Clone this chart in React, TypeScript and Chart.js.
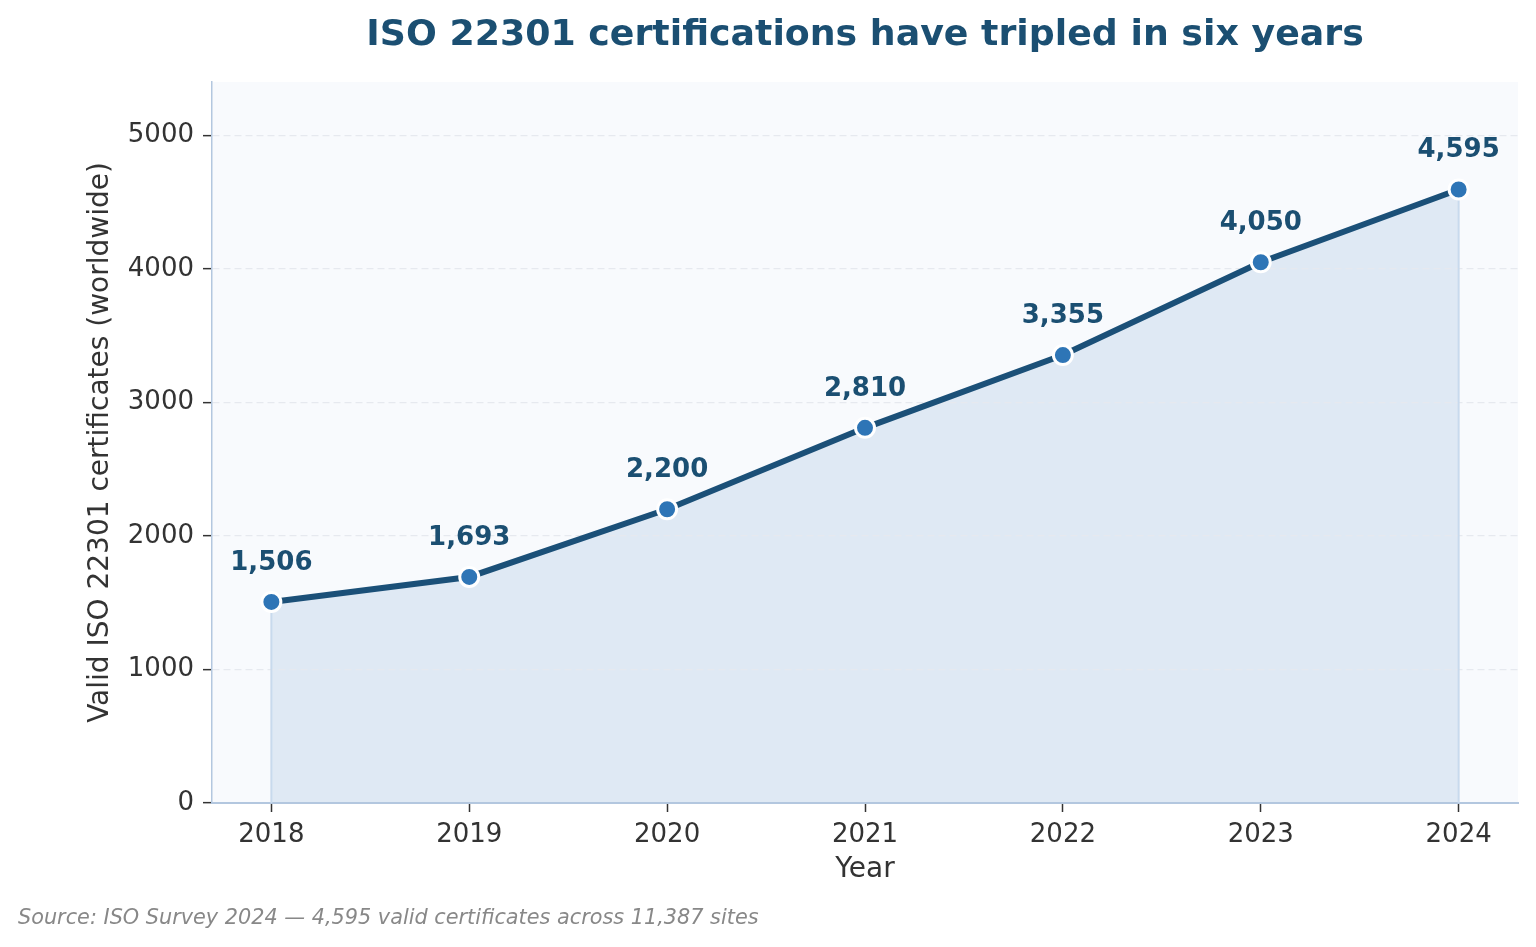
import React, { useEffect, useRef } from "react";
import { Chart, registerables } from "chart.js";

// Data
const years = ["2018", "2019", "2020", "2021", "2022", "2023", "2024"];
const certificates = [1506, 1693, 2200, 2810, 3355, 4050, 4595];
const yTickValues = [0, 1000, 2000, 3000, 4000, 5000];

const titleText = "ISO 22301 certifications have tripled in six years";
const yTitleText = "Valid ISO 22301 certificates (worldwide)";
const xTitleText = "Year";
const sourceText =
  "Source: ISO Survey 2024 \u2014 4,595 valid certificates across 11,387 sites";

const FONT = "'DejaVu Sans', 'Noto Sans', sans-serif";
const NAVY = "#1b5078";
const TITLE_NAVY = "#1b4f72";
const POINT_BLUE = "#2e75b6";
const TEXT_DARK = "#333333";
const SPINE = "#b3c7df";

// Plot-area background; registered ahead of the built-in plugins so that
// the area fill (drawn at beforeDraw time) lands on top of it.
const plotBackground = {
  id: "plotBackground",
  beforeDraw(chart: any) {
    const { ctx, chartArea } = chart;
    if (!chartArea) return;
    ctx.save();
    ctx.fillStyle = "#f8fafd";
    ctx.fillRect(
      chartArea.left,
      chartArea.top,
      chartArea.right - chartArea.left,
      chartArea.bottom - chartArea.top
    );
    ctx.restore();
  },
};

Chart.register(plotBackground, ...registerables);

// Edge lines of the shaded area, value labels, title and source note
const decorations = {
  id: "decorations",
  beforeDatasetsDraw(chart: any) {
    const { ctx } = chart;
    const meta = chart.getDatasetMeta(0);
    const yScale = chart.scales.y;
    const base = yScale.getPixelForValue(0);
    const pts = meta.data;
    if (!pts.length) return;
    ctx.save();
    ctx.strokeStyle = "#c8daed";
    ctx.lineWidth = 2;
    [pts[0], pts[pts.length - 1]].forEach((p: any) => {
      ctx.beginPath();
      ctx.moveTo(p.x, p.y);
      ctx.lineTo(p.x, base);
      ctx.stroke();
    });
    ctx.restore();
  },
  afterDatasetsDraw(chart: any) {
    const { ctx } = chart;
    const meta = chart.getDatasetMeta(0);
    ctx.save();
    ctx.font = `bold 26px ${FONT}`;
    ctx.fillStyle = TITLE_NAVY;
    ctx.textAlign = "center";
    ctx.textBaseline = "middle";
    meta.data.forEach((p: any, i: number) => {
      ctx.fillText(certificates[i].toLocaleString("en-US"), p.x, p.y - 39);
    });
    ctx.restore();
  },
  afterDraw(chart: any) {
    const { ctx, chartArea } = chart;
    ctx.save();
    ctx.font = `bold 36.3px ${FONT}`;
    ctx.fillStyle = TITLE_NAVY;
    ctx.textAlign = "center";
    ctx.textBaseline = "middle";
    ctx.fillText(titleText, (chartArea.left + chartArea.right) / 2, 36);

    ctx.font = `italic 20.8px ${FONT}`;
    ctx.fillStyle = "#888888";
    ctx.textAlign = "left";
    ctx.fillText(sourceText, 18, 919);
    ctx.restore();
  },
};

export default function App() {
  const canvasRef = useRef<HTMLCanvasElement | null>(null);

  useEffect(() => {
    if (!canvasRef.current) return;
    const chart = new Chart(canvasRef.current, {
      type: "line",
      data: {
        datasets: [
          {
            label: "Valid certificates",
            data: certificates.map((v, i) => ({ x: i, y: v })),
            borderColor: NAVY,
            borderWidth: 6,
            backgroundColor: "rgba(46,117,182,0.124)",
            fill: "origin",
            tension: 0,
            pointRadius: 9.5,
            pointBackgroundColor: POINT_BLUE,
            pointBorderColor: "#ffffff",
            pointBorderWidth: 3,
            clip: false,
          },
        ],
      },
      options: {
        animation: false,
        responsive: false,
        maintainAspectRatio: false,
        devicePixelRatio: 1,
        layout: { padding: { top: 82, right: 18, bottom: 34, left: 0 } },
        font: { family: FONT },
        plugins: {
          legend: { display: false },
          tooltip: { enabled: false },
          title: { display: false },
          filler: { drawTime: "beforeDraw" },
        },
        scales: {
          x: {
            type: "linear",
            min: -0.3,
            max: 6.3,
            afterBuildTicks: (s: any) => {
              s.ticks = years.map((_, i) => ({ value: i }));
            },
            afterFit: (s: any) => {
              s.height = 110;
            },
            ticks: {
              autoSkip: false,
              maxRotation: 0,
              padding: 8,
              color: TEXT_DARK,
              font: { size: 26, family: FONT },
              callback: (v: any) => years[Math.round(Number(v))],
            },
            grid: {
              drawOnChartArea: false,
              drawTicks: true,
              tickLength: 9,
              tickColor: TEXT_DARK,
              tickWidth: 1.5,
            },
            border: { display: true, color: SPINE, width: 2 },
            title: {
              display: true,
              text: xTitleText,
              color: TEXT_DARK,
              font: { size: 28, family: FONT },
              padding: { top: 0, bottom: 26 },
            },
          },
          y: {
            type: "linear",
            min: 0,
            max: 5400,
            afterBuildTicks: (s: any) => {
              s.ticks = yTickValues.map((v) => ({ value: v }));
            },
            afterFit: (s: any) => {
              s.width = 212;
            },
            ticks: {
              padding: 9,
              color: TEXT_DARK,
              font: { size: 26, family: FONT },
              callback: (v: any) => String(v),
            },
            grid: {
              color: "#e6e9ef",
              lineWidth: 1.3,
              drawTicks: true,
              tickLength: 9,
              tickColor: TEXT_DARK,
              tickWidth: 1.5,
              tickBorderDash: [],
            },
            border: { display: true, color: SPINE, width: 1.5, dash: [7, 4] },
            title: {
              display: true,
              text: yTitleText,
              color: TEXT_DARK,
              font: { size: 28, family: FONT },
              padding: { top: 84, bottom: 0 },
            },
          },
        },
      },
      plugins: [decorations],
    } as any);
    return () => chart.destroy();
  }, []);

  return (
    <div style={{ position: "absolute", left: 0, top: 0, width: 1536, height: 947, background: "#ffffff" }}>
      <canvas ref={canvasRef} width={1536} height={947} style={{ width: 1536, height: 947, display: "block" }} />
    </div>
  );
}
